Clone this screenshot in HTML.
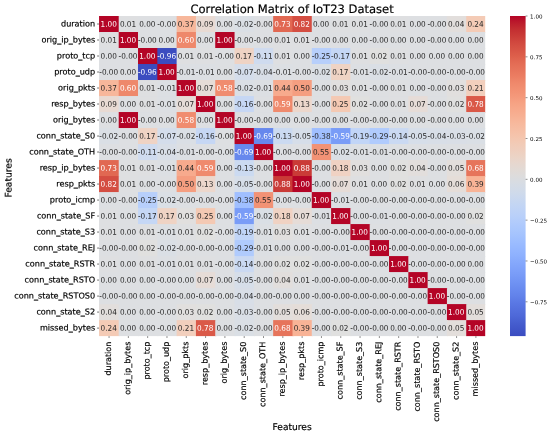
<!DOCTYPE html>
<html><head><meta charset="utf-8"><title>Correlation Matrix of IoT23 Dataset</title>
<style>html,body{margin:0;padding:0;background:#fff;overflow:hidden}svg{display:block}</style></head>
<body>
<svg width="550" height="434" viewBox="0 0 550 434" font-family="'DejaVu Sans', 'Liberation Sans', sans-serif">
<rect width="550" height="434" fill="#fff"/>
<defs><linearGradient id="cb" x1="0" y1="0" x2="0" y2="1"><stop offset="0.00%" stop-color="#b40426"/><stop offset="2.08%" stop-color="#bb1b2c"/><stop offset="4.17%" stop-color="#c32e31"/><stop offset="6.25%" stop-color="#ca3b37"/><stop offset="8.33%" stop-color="#d1493f"/><stop offset="10.42%" stop-color="#d75445"/><stop offset="12.50%" stop-color="#dd5f4b"/><stop offset="14.58%" stop-color="#e36b54"/><stop offset="16.67%" stop-color="#e7745b"/><stop offset="18.75%" stop-color="#eb7d62"/><stop offset="20.83%" stop-color="#ef886b"/><stop offset="22.92%" stop-color="#f29072"/><stop offset="25.00%" stop-color="#f4987a"/><stop offset="27.08%" stop-color="#f6a283"/><stop offset="29.17%" stop-color="#f7a98b"/><stop offset="31.25%" stop-color="#f7b093"/><stop offset="33.33%" stop-color="#f7b89c"/><stop offset="35.42%" stop-color="#f6bea4"/><stop offset="37.50%" stop-color="#f5c4ac"/><stop offset="39.58%" stop-color="#f2cab5"/><stop offset="41.67%" stop-color="#efcebd"/><stop offset="43.75%" stop-color="#ecd3c5"/><stop offset="45.83%" stop-color="#e7d7ce"/><stop offset="47.92%" stop-color="#e2dad5"/><stop offset="50.00%" stop-color="#dddcdc"/><stop offset="52.08%" stop-color="#d7dce3"/><stop offset="54.17%" stop-color="#d2dbe8"/><stop offset="56.25%" stop-color="#ccd9ed"/><stop offset="58.33%" stop-color="#c5d6f2"/><stop offset="60.42%" stop-color="#bfd3f6"/><stop offset="62.50%" stop-color="#b9d0f9"/><stop offset="64.58%" stop-color="#b1cbfc"/><stop offset="66.67%" stop-color="#aac7fd"/><stop offset="68.75%" stop-color="#a3c2fe"/><stop offset="70.83%" stop-color="#9bbcff"/><stop offset="72.92%" stop-color="#94b6ff"/><stop offset="75.00%" stop-color="#8db0fe"/><stop offset="77.08%" stop-color="#85a8fc"/><stop offset="79.17%" stop-color="#7ea1fa"/><stop offset="81.25%" stop-color="#779af7"/><stop offset="83.33%" stop-color="#6f92f3"/><stop offset="85.42%" stop-color="#688aef"/><stop offset="87.50%" stop-color="#6282ea"/><stop offset="89.58%" stop-color="#5a78e4"/><stop offset="91.67%" stop-color="#5470de"/><stop offset="93.75%" stop-color="#4e68d8"/><stop offset="95.83%" stop-color="#465ecf"/><stop offset="97.92%" stop-color="#4055c8"/><stop offset="100.00%" stop-color="#3b4cc0"/></linearGradient></defs>
<g>
<rect x="99.05" y="16.00" width="20.66" height="17.01" fill="#b40426"/>
<rect x="118.71" y="16.00" width="20.31" height="17.01" fill="#dedfe1"/>
<rect x="138.01" y="16.00" width="20.31" height="17.01" fill="#dddfe2"/>
<rect x="157.32" y="16.00" width="20.31" height="17.01" fill="#dddfe2"/>
<rect x="176.63" y="16.00" width="20.31" height="17.01" fill="#f7b79b"/>
<rect x="195.94" y="16.00" width="20.31" height="17.01" fill="#e8dad3"/>
<rect x="215.24" y="16.00" width="20.31" height="17.01" fill="#dddfe2"/>
<rect x="234.55" y="16.00" width="20.31" height="17.01" fill="#dadfe5"/>
<rect x="253.86" y="16.00" width="20.31" height="17.01" fill="#dddfe2"/>
<rect x="273.17" y="16.00" width="20.31" height="17.01" fill="#e16852"/>
<rect x="292.48" y="16.00" width="20.31" height="17.01" fill="#d44e42"/>
<rect x="311.78" y="16.00" width="20.31" height="17.01" fill="#dddfe2"/>
<rect x="331.09" y="16.00" width="20.31" height="17.01" fill="#dedfe1"/>
<rect x="350.40" y="16.00" width="20.31" height="17.01" fill="#dedfe1"/>
<rect x="369.70" y="16.00" width="20.31" height="17.01" fill="#dddfe2"/>
<rect x="389.01" y="16.00" width="20.31" height="17.01" fill="#dedfe1"/>
<rect x="408.32" y="16.00" width="20.31" height="17.01" fill="#dddfe2"/>
<rect x="427.63" y="16.00" width="20.31" height="17.01" fill="#dddfe2"/>
<rect x="446.94" y="16.00" width="20.31" height="17.01" fill="#e2dedc"/>
<rect x="466.24" y="16.00" width="18.96" height="17.01" fill="#f4cbb6"/>
<rect x="99.05" y="32.01" width="20.66" height="17.01" fill="#dedfe1"/>
<rect x="118.71" y="32.01" width="20.31" height="17.01" fill="#b40426"/>
<rect x="138.01" y="32.01" width="20.31" height="17.01" fill="#dddfe2"/>
<rect x="157.32" y="32.01" width="20.31" height="17.01" fill="#dddfe2"/>
<rect x="176.63" y="32.01" width="20.31" height="17.01" fill="#ee886b"/>
<rect x="195.94" y="32.01" width="20.31" height="17.01" fill="#dddfe2"/>
<rect x="215.24" y="32.01" width="20.31" height="17.01" fill="#b40426"/>
<rect x="234.55" y="32.01" width="20.31" height="17.01" fill="#dddfe2"/>
<rect x="253.86" y="32.01" width="20.31" height="17.01" fill="#dddfe2"/>
<rect x="273.17" y="32.01" width="20.31" height="17.01" fill="#dedfe1"/>
<rect x="292.48" y="32.01" width="20.31" height="17.01" fill="#dedfe1"/>
<rect x="311.78" y="32.01" width="20.31" height="17.01" fill="#dddfe2"/>
<rect x="331.09" y="32.01" width="20.31" height="17.01" fill="#dddfe2"/>
<rect x="350.40" y="32.01" width="20.31" height="17.01" fill="#dddfe2"/>
<rect x="369.70" y="32.01" width="20.31" height="17.01" fill="#dddfe2"/>
<rect x="389.01" y="32.01" width="20.31" height="17.01" fill="#dddfe2"/>
<rect x="408.32" y="32.01" width="20.31" height="17.01" fill="#dddfe2"/>
<rect x="427.63" y="32.01" width="20.31" height="17.01" fill="#dddfe2"/>
<rect x="446.94" y="32.01" width="20.31" height="17.01" fill="#dddfe2"/>
<rect x="466.24" y="32.01" width="18.96" height="17.01" fill="#dddfe2"/>
<rect x="99.05" y="48.01" width="20.66" height="17.01" fill="#dddfe2"/>
<rect x="118.71" y="48.01" width="20.31" height="17.01" fill="#dddfe2"/>
<rect x="138.01" y="48.01" width="20.31" height="17.01" fill="#b40426"/>
<rect x="157.32" y="48.01" width="20.31" height="17.01" fill="#3b4cc0"/>
<rect x="176.63" y="48.01" width="20.31" height="17.01" fill="#dedfe1"/>
<rect x="195.94" y="48.01" width="20.31" height="17.01" fill="#dedfe1"/>
<rect x="215.24" y="48.01" width="20.31" height="17.01" fill="#dddfe2"/>
<rect x="234.55" y="48.01" width="20.31" height="17.01" fill="#efd3c4"/>
<rect x="253.86" y="48.01" width="20.31" height="17.01" fill="#cfdbef"/>
<rect x="273.17" y="48.01" width="20.31" height="17.01" fill="#dedfe1"/>
<rect x="292.48" y="48.01" width="20.31" height="17.01" fill="#dddfe2"/>
<rect x="311.78" y="48.01" width="20.31" height="17.01" fill="#b7cffb"/>
<rect x="331.09" y="48.01" width="20.31" height="17.01" fill="#c5d7f5"/>
<rect x="350.40" y="48.01" width="20.31" height="17.01" fill="#dedfe1"/>
<rect x="369.70" y="48.01" width="20.31" height="17.01" fill="#e0e0df"/>
<rect x="389.01" y="48.01" width="20.31" height="17.01" fill="#dedfe1"/>
<rect x="408.32" y="48.01" width="20.31" height="17.01" fill="#dddfe2"/>
<rect x="427.63" y="48.01" width="20.31" height="17.01" fill="#dddfe2"/>
<rect x="446.94" y="48.01" width="20.31" height="17.01" fill="#dddfe2"/>
<rect x="466.24" y="48.01" width="18.96" height="17.01" fill="#dddfe2"/>
<rect x="99.05" y="64.02" width="20.66" height="17.01" fill="#dddfe2"/>
<rect x="118.71" y="64.02" width="20.31" height="17.01" fill="#dddfe2"/>
<rect x="138.01" y="64.02" width="20.31" height="17.01" fill="#3b4cc0"/>
<rect x="157.32" y="64.02" width="20.31" height="17.01" fill="#b40426"/>
<rect x="176.63" y="64.02" width="20.31" height="17.01" fill="#dcdfe3"/>
<rect x="195.94" y="64.02" width="20.31" height="17.01" fill="#dcdfe3"/>
<rect x="215.24" y="64.02" width="20.31" height="17.01" fill="#dddfe2"/>
<rect x="234.55" y="64.02" width="20.31" height="17.01" fill="#d4ddeb"/>
<rect x="253.86" y="64.02" width="20.31" height="17.01" fill="#d8dee7"/>
<rect x="273.17" y="64.02" width="20.31" height="17.01" fill="#dcdfe3"/>
<rect x="292.48" y="64.02" width="20.31" height="17.01" fill="#dddfe2"/>
<rect x="311.78" y="64.02" width="20.31" height="17.01" fill="#dadfe5"/>
<rect x="331.09" y="64.02" width="20.31" height="17.01" fill="#efd3c4"/>
<rect x="350.40" y="64.02" width="20.31" height="17.01" fill="#dcdfe3"/>
<rect x="369.70" y="64.02" width="20.31" height="17.01" fill="#dadfe5"/>
<rect x="389.01" y="64.02" width="20.31" height="17.01" fill="#dcdfe3"/>
<rect x="408.32" y="64.02" width="20.31" height="17.01" fill="#dddfe2"/>
<rect x="427.63" y="64.02" width="20.31" height="17.01" fill="#dddfe2"/>
<rect x="446.94" y="64.02" width="20.31" height="17.01" fill="#dddfe2"/>
<rect x="466.24" y="64.02" width="18.96" height="17.01" fill="#dddfe2"/>
<rect x="99.05" y="80.02" width="20.66" height="17.01" fill="#f7b79b"/>
<rect x="118.71" y="80.02" width="20.31" height="17.01" fill="#ee886b"/>
<rect x="138.01" y="80.02" width="20.31" height="17.01" fill="#dedfe1"/>
<rect x="157.32" y="80.02" width="20.31" height="17.01" fill="#dcdfe3"/>
<rect x="176.63" y="80.02" width="20.31" height="17.01" fill="#b40426"/>
<rect x="195.94" y="80.02" width="20.31" height="17.01" fill="#e6dcd7"/>
<rect x="215.24" y="80.02" width="20.31" height="17.01" fill="#f08c6f"/>
<rect x="234.55" y="80.02" width="20.31" height="17.01" fill="#dadfe5"/>
<rect x="253.86" y="80.02" width="20.31" height="17.01" fill="#dcdfe3"/>
<rect x="273.17" y="80.02" width="20.31" height="17.01" fill="#f7aa8d"/>
<rect x="292.48" y="80.02" width="20.31" height="17.01" fill="#f59e80"/>
<rect x="311.78" y="80.02" width="20.31" height="17.01" fill="#dddfe2"/>
<rect x="331.09" y="80.02" width="20.31" height="17.01" fill="#e1dfde"/>
<rect x="350.40" y="80.02" width="20.31" height="17.01" fill="#dedfe1"/>
<rect x="369.70" y="80.02" width="20.31" height="17.01" fill="#dddfe2"/>
<rect x="389.01" y="80.02" width="20.31" height="17.01" fill="#dedfe1"/>
<rect x="408.32" y="80.02" width="20.31" height="17.01" fill="#dddfe2"/>
<rect x="427.63" y="80.02" width="20.31" height="17.01" fill="#dddfe2"/>
<rect x="446.94" y="80.02" width="20.31" height="17.01" fill="#e1dfde"/>
<rect x="466.24" y="80.02" width="18.96" height="17.01" fill="#f2cfbd"/>
<rect x="99.05" y="96.03" width="20.66" height="17.01" fill="#e8dad3"/>
<rect x="118.71" y="96.03" width="20.31" height="17.01" fill="#dddfe2"/>
<rect x="138.01" y="96.03" width="20.31" height="17.01" fill="#dedfe1"/>
<rect x="157.32" y="96.03" width="20.31" height="17.01" fill="#dcdfe3"/>
<rect x="176.63" y="96.03" width="20.31" height="17.01" fill="#e6dcd7"/>
<rect x="195.94" y="96.03" width="20.31" height="17.01" fill="#b40426"/>
<rect x="215.24" y="96.03" width="20.31" height="17.01" fill="#dddfe2"/>
<rect x="234.55" y="96.03" width="20.31" height="17.01" fill="#c6d7f4"/>
<rect x="253.86" y="96.03" width="20.31" height="17.01" fill="#dddfe2"/>
<rect x="273.17" y="96.03" width="20.31" height="17.01" fill="#ef8a6d"/>
<rect x="292.48" y="96.03" width="20.31" height="17.01" fill="#ecd7cc"/>
<rect x="311.78" y="96.03" width="20.31" height="17.01" fill="#dddfe2"/>
<rect x="331.09" y="96.03" width="20.31" height="17.01" fill="#f4c9b3"/>
<rect x="350.40" y="96.03" width="20.31" height="17.01" fill="#e0e0df"/>
<rect x="369.70" y="96.03" width="20.31" height="17.01" fill="#dddfe2"/>
<rect x="389.01" y="96.03" width="20.31" height="17.01" fill="#dedfe1"/>
<rect x="408.32" y="96.03" width="20.31" height="17.01" fill="#e6dcd7"/>
<rect x="427.63" y="96.03" width="20.31" height="17.01" fill="#dddfe2"/>
<rect x="446.94" y="96.03" width="20.31" height="17.01" fill="#e0e0df"/>
<rect x="466.24" y="96.03" width="18.96" height="17.01" fill="#da5948"/>
<rect x="99.05" y="112.03" width="20.66" height="17.01" fill="#dddfe2"/>
<rect x="118.71" y="112.03" width="20.31" height="17.01" fill="#b40426"/>
<rect x="138.01" y="112.03" width="20.31" height="17.01" fill="#dddfe2"/>
<rect x="157.32" y="112.03" width="20.31" height="17.01" fill="#dddfe2"/>
<rect x="176.63" y="112.03" width="20.31" height="17.01" fill="#f08c6f"/>
<rect x="195.94" y="112.03" width="20.31" height="17.01" fill="#dddfe2"/>
<rect x="215.24" y="112.03" width="20.31" height="17.01" fill="#b40426"/>
<rect x="234.55" y="112.03" width="20.31" height="17.01" fill="#dddfe2"/>
<rect x="253.86" y="112.03" width="20.31" height="17.01" fill="#dddfe2"/>
<rect x="273.17" y="112.03" width="20.31" height="17.01" fill="#dddfe2"/>
<rect x="292.48" y="112.03" width="20.31" height="17.01" fill="#dddfe2"/>
<rect x="311.78" y="112.03" width="20.31" height="17.01" fill="#dddfe2"/>
<rect x="331.09" y="112.03" width="20.31" height="17.01" fill="#dddfe2"/>
<rect x="350.40" y="112.03" width="20.31" height="17.01" fill="#dddfe2"/>
<rect x="369.70" y="112.03" width="20.31" height="17.01" fill="#dddfe2"/>
<rect x="389.01" y="112.03" width="20.31" height="17.01" fill="#dddfe2"/>
<rect x="408.32" y="112.03" width="20.31" height="17.01" fill="#dddfe2"/>
<rect x="427.63" y="112.03" width="20.31" height="17.01" fill="#dddfe2"/>
<rect x="446.94" y="112.03" width="20.31" height="17.01" fill="#dddfe2"/>
<rect x="466.24" y="112.03" width="18.96" height="17.01" fill="#dddfe2"/>
<rect x="99.05" y="128.04" width="20.66" height="17.01" fill="#dadfe5"/>
<rect x="118.71" y="128.04" width="20.31" height="17.01" fill="#dddfe2"/>
<rect x="138.01" y="128.04" width="20.31" height="17.01" fill="#efd3c4"/>
<rect x="157.32" y="128.04" width="20.31" height="17.01" fill="#d4ddeb"/>
<rect x="176.63" y="128.04" width="20.31" height="17.01" fill="#dadfe5"/>
<rect x="195.94" y="128.04" width="20.31" height="17.01" fill="#c6d7f4"/>
<rect x="215.24" y="128.04" width="20.31" height="17.01" fill="#dddfe2"/>
<rect x="234.55" y="128.04" width="20.31" height="17.01" fill="#b40426"/>
<rect x="253.86" y="128.04" width="20.31" height="17.01" fill="#6788ed"/>
<rect x="273.17" y="128.04" width="20.31" height="17.01" fill="#cbdaf1"/>
<rect x="292.48" y="128.04" width="20.31" height="17.01" fill="#d6dee9"/>
<rect x="311.78" y="128.04" width="20.31" height="17.01" fill="#a0bfff"/>
<rect x="331.09" y="128.04" width="20.31" height="17.01" fill="#799cf7"/>
<rect x="350.40" y="128.04" width="20.31" height="17.01" fill="#c1d5f7"/>
<rect x="369.70" y="128.04" width="20.31" height="17.01" fill="#b0cbfd"/>
<rect x="389.01" y="128.04" width="20.31" height="17.01" fill="#cad9f2"/>
<rect x="408.32" y="128.04" width="20.31" height="17.01" fill="#d6dee9"/>
<rect x="427.63" y="128.04" width="20.31" height="17.01" fill="#d8dee7"/>
<rect x="446.94" y="128.04" width="20.31" height="17.01" fill="#d9dee6"/>
<rect x="466.24" y="128.04" width="18.96" height="17.01" fill="#dadfe5"/>
<rect x="99.05" y="144.04" width="20.66" height="17.01" fill="#dddfe2"/>
<rect x="118.71" y="144.04" width="20.31" height="17.01" fill="#dddfe2"/>
<rect x="138.01" y="144.04" width="20.31" height="17.01" fill="#cfdbef"/>
<rect x="157.32" y="144.04" width="20.31" height="17.01" fill="#d8dee7"/>
<rect x="176.63" y="144.04" width="20.31" height="17.01" fill="#dcdfe3"/>
<rect x="195.94" y="144.04" width="20.31" height="17.01" fill="#dddfe2"/>
<rect x="215.24" y="144.04" width="20.31" height="17.01" fill="#dddfe2"/>
<rect x="234.55" y="144.04" width="20.31" height="17.01" fill="#6788ed"/>
<rect x="253.86" y="144.04" width="20.31" height="17.01" fill="#b40426"/>
<rect x="273.17" y="144.04" width="20.31" height="17.01" fill="#dddfe2"/>
<rect x="292.48" y="144.04" width="20.31" height="17.01" fill="#dddfe2"/>
<rect x="311.78" y="144.04" width="20.31" height="17.01" fill="#f29275"/>
<rect x="331.09" y="144.04" width="20.31" height="17.01" fill="#dadfe5"/>
<rect x="350.40" y="144.04" width="20.31" height="17.01" fill="#dcdfe3"/>
<rect x="369.70" y="144.04" width="20.31" height="17.01" fill="#dcdfe3"/>
<rect x="389.01" y="144.04" width="20.31" height="17.01" fill="#dddfe2"/>
<rect x="408.32" y="144.04" width="20.31" height="17.01" fill="#dddfe2"/>
<rect x="427.63" y="144.04" width="20.31" height="17.01" fill="#dddfe2"/>
<rect x="446.94" y="144.04" width="20.31" height="17.01" fill="#dddfe2"/>
<rect x="466.24" y="144.04" width="18.96" height="17.01" fill="#dddfe2"/>
<rect x="99.05" y="160.05" width="20.66" height="17.01" fill="#e16852"/>
<rect x="118.71" y="160.05" width="20.31" height="17.01" fill="#dedfe1"/>
<rect x="138.01" y="160.05" width="20.31" height="17.01" fill="#dedfe1"/>
<rect x="157.32" y="160.05" width="20.31" height="17.01" fill="#dcdfe3"/>
<rect x="176.63" y="160.05" width="20.31" height="17.01" fill="#f7aa8d"/>
<rect x="195.94" y="160.05" width="20.31" height="17.01" fill="#ef8a6d"/>
<rect x="215.24" y="160.05" width="20.31" height="17.01" fill="#dddfe2"/>
<rect x="234.55" y="160.05" width="20.31" height="17.01" fill="#cbdaf1"/>
<rect x="253.86" y="160.05" width="20.31" height="17.01" fill="#dddfe2"/>
<rect x="273.17" y="160.05" width="20.31" height="17.01" fill="#b40426"/>
<rect x="292.48" y="160.05" width="20.31" height="17.01" fill="#ca3b37"/>
<rect x="311.78" y="160.05" width="20.31" height="17.01" fill="#dddfe2"/>
<rect x="331.09" y="160.05" width="20.31" height="17.01" fill="#f0d2c3"/>
<rect x="350.40" y="160.05" width="20.31" height="17.01" fill="#e1dfde"/>
<rect x="369.70" y="160.05" width="20.31" height="17.01" fill="#dddfe2"/>
<rect x="389.01" y="160.05" width="20.31" height="17.01" fill="#e0e0df"/>
<rect x="408.32" y="160.05" width="20.31" height="17.01" fill="#e2dedc"/>
<rect x="427.63" y="160.05" width="20.31" height="17.01" fill="#dddfe2"/>
<rect x="446.94" y="160.05" width="20.31" height="17.01" fill="#e3dedb"/>
<rect x="466.24" y="160.05" width="18.96" height="17.01" fill="#e6745b"/>
<rect x="99.05" y="176.05" width="20.66" height="17.01" fill="#d44e42"/>
<rect x="118.71" y="176.05" width="20.31" height="17.01" fill="#dedfe1"/>
<rect x="138.01" y="176.05" width="20.31" height="17.01" fill="#dddfe2"/>
<rect x="157.32" y="176.05" width="20.31" height="17.01" fill="#dddfe2"/>
<rect x="176.63" y="176.05" width="20.31" height="17.01" fill="#f59e80"/>
<rect x="195.94" y="176.05" width="20.31" height="17.01" fill="#ecd7cc"/>
<rect x="215.24" y="176.05" width="20.31" height="17.01" fill="#dddfe2"/>
<rect x="234.55" y="176.05" width="20.31" height="17.01" fill="#d6dee9"/>
<rect x="253.86" y="176.05" width="20.31" height="17.01" fill="#dddfe2"/>
<rect x="273.17" y="176.05" width="20.31" height="17.01" fill="#ca3b37"/>
<rect x="292.48" y="176.05" width="20.31" height="17.01" fill="#b40426"/>
<rect x="311.78" y="176.05" width="20.31" height="17.01" fill="#dddfe2"/>
<rect x="331.09" y="176.05" width="20.31" height="17.01" fill="#e6dcd7"/>
<rect x="350.40" y="176.05" width="20.31" height="17.01" fill="#dedfe1"/>
<rect x="369.70" y="176.05" width="20.31" height="17.01" fill="#dddfe2"/>
<rect x="389.01" y="176.05" width="20.31" height="17.01" fill="#e0e0df"/>
<rect x="408.32" y="176.05" width="20.31" height="17.01" fill="#dedfe1"/>
<rect x="427.63" y="176.05" width="20.31" height="17.01" fill="#dddfe2"/>
<rect x="446.94" y="176.05" width="20.31" height="17.01" fill="#e5ddd8"/>
<rect x="466.24" y="176.05" width="18.96" height="17.01" fill="#f8b396"/>
<rect x="99.05" y="192.06" width="20.66" height="17.01" fill="#dddfe2"/>
<rect x="118.71" y="192.06" width="20.31" height="17.01" fill="#dddfe2"/>
<rect x="138.01" y="192.06" width="20.31" height="17.01" fill="#b7cffb"/>
<rect x="157.32" y="192.06" width="20.31" height="17.01" fill="#dadfe5"/>
<rect x="176.63" y="192.06" width="20.31" height="17.01" fill="#dddfe2"/>
<rect x="195.94" y="192.06" width="20.31" height="17.01" fill="#dddfe2"/>
<rect x="215.24" y="192.06" width="20.31" height="17.01" fill="#dddfe2"/>
<rect x="234.55" y="192.06" width="20.31" height="17.01" fill="#a0bfff"/>
<rect x="253.86" y="192.06" width="20.31" height="17.01" fill="#f29275"/>
<rect x="273.17" y="192.06" width="20.31" height="17.01" fill="#dddfe2"/>
<rect x="292.48" y="192.06" width="20.31" height="17.01" fill="#dddfe2"/>
<rect x="311.78" y="192.06" width="20.31" height="17.01" fill="#b40426"/>
<rect x="331.09" y="192.06" width="20.31" height="17.01" fill="#dcdfe3"/>
<rect x="350.40" y="192.06" width="20.31" height="17.01" fill="#dddfe2"/>
<rect x="369.70" y="192.06" width="20.31" height="17.01" fill="#dddfe2"/>
<rect x="389.01" y="192.06" width="20.31" height="17.01" fill="#dddfe2"/>
<rect x="408.32" y="192.06" width="20.31" height="17.01" fill="#dddfe2"/>
<rect x="427.63" y="192.06" width="20.31" height="17.01" fill="#dddfe2"/>
<rect x="446.94" y="192.06" width="20.31" height="17.01" fill="#dddfe2"/>
<rect x="466.24" y="192.06" width="18.96" height="17.01" fill="#dddfe2"/>
<rect x="99.05" y="208.06" width="20.66" height="17.01" fill="#dedfe1"/>
<rect x="118.71" y="208.06" width="20.31" height="17.01" fill="#dddfe2"/>
<rect x="138.01" y="208.06" width="20.31" height="17.01" fill="#c5d7f5"/>
<rect x="157.32" y="208.06" width="20.31" height="17.01" fill="#efd3c4"/>
<rect x="176.63" y="208.06" width="20.31" height="17.01" fill="#e1dfde"/>
<rect x="195.94" y="208.06" width="20.31" height="17.01" fill="#f4c9b3"/>
<rect x="215.24" y="208.06" width="20.31" height="17.01" fill="#dddfe2"/>
<rect x="234.55" y="208.06" width="20.31" height="17.01" fill="#799cf7"/>
<rect x="253.86" y="208.06" width="20.31" height="17.01" fill="#dadfe5"/>
<rect x="273.17" y="208.06" width="20.31" height="17.01" fill="#f0d2c3"/>
<rect x="292.48" y="208.06" width="20.31" height="17.01" fill="#e6dcd7"/>
<rect x="311.78" y="208.06" width="20.31" height="17.01" fill="#dcdfe3"/>
<rect x="331.09" y="208.06" width="20.31" height="17.01" fill="#b40426"/>
<rect x="350.40" y="208.06" width="20.31" height="17.01" fill="#dddfe2"/>
<rect x="369.70" y="208.06" width="20.31" height="17.01" fill="#dcdfe3"/>
<rect x="389.01" y="208.06" width="20.31" height="17.01" fill="#dddfe2"/>
<rect x="408.32" y="208.06" width="20.31" height="17.01" fill="#dddfe2"/>
<rect x="427.63" y="208.06" width="20.31" height="17.01" fill="#dddfe2"/>
<rect x="446.94" y="208.06" width="20.31" height="17.01" fill="#dddfe2"/>
<rect x="466.24" y="208.06" width="18.96" height="17.01" fill="#e0e0df"/>
<rect x="99.05" y="224.07" width="20.66" height="17.01" fill="#dedfe1"/>
<rect x="118.71" y="224.07" width="20.31" height="17.01" fill="#dddfe2"/>
<rect x="138.01" y="224.07" width="20.31" height="17.01" fill="#dedfe1"/>
<rect x="157.32" y="224.07" width="20.31" height="17.01" fill="#dcdfe3"/>
<rect x="176.63" y="224.07" width="20.31" height="17.01" fill="#dedfe1"/>
<rect x="195.94" y="224.07" width="20.31" height="17.01" fill="#e0e0df"/>
<rect x="215.24" y="224.07" width="20.31" height="17.01" fill="#dddfe2"/>
<rect x="234.55" y="224.07" width="20.31" height="17.01" fill="#c1d5f7"/>
<rect x="253.86" y="224.07" width="20.31" height="17.01" fill="#dcdfe3"/>
<rect x="273.17" y="224.07" width="20.31" height="17.01" fill="#e1dfde"/>
<rect x="292.48" y="224.07" width="20.31" height="17.01" fill="#dedfe1"/>
<rect x="311.78" y="224.07" width="20.31" height="17.01" fill="#dddfe2"/>
<rect x="331.09" y="224.07" width="20.31" height="17.01" fill="#dddfe2"/>
<rect x="350.40" y="224.07" width="20.31" height="17.01" fill="#b40426"/>
<rect x="369.70" y="224.07" width="20.31" height="17.01" fill="#dddfe2"/>
<rect x="389.01" y="224.07" width="20.31" height="17.01" fill="#dddfe2"/>
<rect x="408.32" y="224.07" width="20.31" height="17.01" fill="#dddfe2"/>
<rect x="427.63" y="224.07" width="20.31" height="17.01" fill="#dddfe2"/>
<rect x="446.94" y="224.07" width="20.31" height="17.01" fill="#dddfe2"/>
<rect x="466.24" y="224.07" width="18.96" height="17.01" fill="#dddfe2"/>
<rect x="99.05" y="240.07" width="20.66" height="17.01" fill="#dddfe2"/>
<rect x="118.71" y="240.07" width="20.31" height="17.01" fill="#dddfe2"/>
<rect x="138.01" y="240.07" width="20.31" height="17.01" fill="#e0e0df"/>
<rect x="157.32" y="240.07" width="20.31" height="17.01" fill="#dadfe5"/>
<rect x="176.63" y="240.07" width="20.31" height="17.01" fill="#dddfe2"/>
<rect x="195.94" y="240.07" width="20.31" height="17.01" fill="#dddfe2"/>
<rect x="215.24" y="240.07" width="20.31" height="17.01" fill="#dddfe2"/>
<rect x="234.55" y="240.07" width="20.31" height="17.01" fill="#b0cbfd"/>
<rect x="253.86" y="240.07" width="20.31" height="17.01" fill="#dcdfe3"/>
<rect x="273.17" y="240.07" width="20.31" height="17.01" fill="#dddfe2"/>
<rect x="292.48" y="240.07" width="20.31" height="17.01" fill="#dddfe2"/>
<rect x="311.78" y="240.07" width="20.31" height="17.01" fill="#dddfe2"/>
<rect x="331.09" y="240.07" width="20.31" height="17.01" fill="#dcdfe3"/>
<rect x="350.40" y="240.07" width="20.31" height="17.01" fill="#dddfe2"/>
<rect x="369.70" y="240.07" width="20.31" height="17.01" fill="#b40426"/>
<rect x="389.01" y="240.07" width="20.31" height="17.01" fill="#dddfe2"/>
<rect x="408.32" y="240.07" width="20.31" height="17.01" fill="#dddfe2"/>
<rect x="427.63" y="240.07" width="20.31" height="17.01" fill="#dddfe2"/>
<rect x="446.94" y="240.07" width="20.31" height="17.01" fill="#dddfe2"/>
<rect x="466.24" y="240.07" width="18.96" height="17.01" fill="#dddfe2"/>
<rect x="99.05" y="256.08" width="20.66" height="17.01" fill="#dedfe1"/>
<rect x="118.71" y="256.08" width="20.31" height="17.01" fill="#dddfe2"/>
<rect x="138.01" y="256.08" width="20.31" height="17.01" fill="#dedfe1"/>
<rect x="157.32" y="256.08" width="20.31" height="17.01" fill="#dcdfe3"/>
<rect x="176.63" y="256.08" width="20.31" height="17.01" fill="#dedfe1"/>
<rect x="195.94" y="256.08" width="20.31" height="17.01" fill="#dedfe1"/>
<rect x="215.24" y="256.08" width="20.31" height="17.01" fill="#dddfe2"/>
<rect x="234.55" y="256.08" width="20.31" height="17.01" fill="#cad9f2"/>
<rect x="253.86" y="256.08" width="20.31" height="17.01" fill="#dddfe2"/>
<rect x="273.17" y="256.08" width="20.31" height="17.01" fill="#e0e0df"/>
<rect x="292.48" y="256.08" width="20.31" height="17.01" fill="#e0e0df"/>
<rect x="311.78" y="256.08" width="20.31" height="17.01" fill="#dddfe2"/>
<rect x="331.09" y="256.08" width="20.31" height="17.01" fill="#dddfe2"/>
<rect x="350.40" y="256.08" width="20.31" height="17.01" fill="#dddfe2"/>
<rect x="369.70" y="256.08" width="20.31" height="17.01" fill="#dddfe2"/>
<rect x="389.01" y="256.08" width="20.31" height="17.01" fill="#b40426"/>
<rect x="408.32" y="256.08" width="20.31" height="17.01" fill="#dddfe2"/>
<rect x="427.63" y="256.08" width="20.31" height="17.01" fill="#dddfe2"/>
<rect x="446.94" y="256.08" width="20.31" height="17.01" fill="#dddfe2"/>
<rect x="466.24" y="256.08" width="18.96" height="17.01" fill="#dddfe2"/>
<rect x="99.05" y="272.08" width="20.66" height="17.01" fill="#dddfe2"/>
<rect x="118.71" y="272.08" width="20.31" height="17.01" fill="#dddfe2"/>
<rect x="138.01" y="272.08" width="20.31" height="17.01" fill="#dddfe2"/>
<rect x="157.32" y="272.08" width="20.31" height="17.01" fill="#dddfe2"/>
<rect x="176.63" y="272.08" width="20.31" height="17.01" fill="#dddfe2"/>
<rect x="195.94" y="272.08" width="20.31" height="17.01" fill="#e6dcd7"/>
<rect x="215.24" y="272.08" width="20.31" height="17.01" fill="#dddfe2"/>
<rect x="234.55" y="272.08" width="20.31" height="17.01" fill="#d6dee9"/>
<rect x="253.86" y="272.08" width="20.31" height="17.01" fill="#dddfe2"/>
<rect x="273.17" y="272.08" width="20.31" height="17.01" fill="#e2dedc"/>
<rect x="292.48" y="272.08" width="20.31" height="17.01" fill="#dedfe1"/>
<rect x="311.78" y="272.08" width="20.31" height="17.01" fill="#dddfe2"/>
<rect x="331.09" y="272.08" width="20.31" height="17.01" fill="#dddfe2"/>
<rect x="350.40" y="272.08" width="20.31" height="17.01" fill="#dddfe2"/>
<rect x="369.70" y="272.08" width="20.31" height="17.01" fill="#dddfe2"/>
<rect x="389.01" y="272.08" width="20.31" height="17.01" fill="#dddfe2"/>
<rect x="408.32" y="272.08" width="20.31" height="17.01" fill="#b40426"/>
<rect x="427.63" y="272.08" width="20.31" height="17.01" fill="#dddfe2"/>
<rect x="446.94" y="272.08" width="20.31" height="17.01" fill="#dddfe2"/>
<rect x="466.24" y="272.08" width="18.96" height="17.01" fill="#dddfe2"/>
<rect x="99.05" y="288.09" width="20.66" height="17.01" fill="#dddfe2"/>
<rect x="118.71" y="288.09" width="20.31" height="17.01" fill="#dddfe2"/>
<rect x="138.01" y="288.09" width="20.31" height="17.01" fill="#dddfe2"/>
<rect x="157.32" y="288.09" width="20.31" height="17.01" fill="#dddfe2"/>
<rect x="176.63" y="288.09" width="20.31" height="17.01" fill="#dddfe2"/>
<rect x="195.94" y="288.09" width="20.31" height="17.01" fill="#dddfe2"/>
<rect x="215.24" y="288.09" width="20.31" height="17.01" fill="#dddfe2"/>
<rect x="234.55" y="288.09" width="20.31" height="17.01" fill="#d8dee7"/>
<rect x="253.86" y="288.09" width="20.31" height="17.01" fill="#dddfe2"/>
<rect x="273.17" y="288.09" width="20.31" height="17.01" fill="#dddfe2"/>
<rect x="292.48" y="288.09" width="20.31" height="17.01" fill="#dddfe2"/>
<rect x="311.78" y="288.09" width="20.31" height="17.01" fill="#dddfe2"/>
<rect x="331.09" y="288.09" width="20.31" height="17.01" fill="#dddfe2"/>
<rect x="350.40" y="288.09" width="20.31" height="17.01" fill="#dddfe2"/>
<rect x="369.70" y="288.09" width="20.31" height="17.01" fill="#dddfe2"/>
<rect x="389.01" y="288.09" width="20.31" height="17.01" fill="#dddfe2"/>
<rect x="408.32" y="288.09" width="20.31" height="17.01" fill="#dddfe2"/>
<rect x="427.63" y="288.09" width="20.31" height="17.01" fill="#b40426"/>
<rect x="446.94" y="288.09" width="20.31" height="17.01" fill="#dddfe2"/>
<rect x="466.24" y="288.09" width="18.96" height="17.01" fill="#dddfe2"/>
<rect x="99.05" y="304.09" width="20.66" height="17.01" fill="#e2dedc"/>
<rect x="118.71" y="304.09" width="20.31" height="17.01" fill="#dddfe2"/>
<rect x="138.01" y="304.09" width="20.31" height="17.01" fill="#dddfe2"/>
<rect x="157.32" y="304.09" width="20.31" height="17.01" fill="#dddfe2"/>
<rect x="176.63" y="304.09" width="20.31" height="17.01" fill="#e1dfde"/>
<rect x="195.94" y="304.09" width="20.31" height="17.01" fill="#e0e0df"/>
<rect x="215.24" y="304.09" width="20.31" height="17.01" fill="#dddfe2"/>
<rect x="234.55" y="304.09" width="20.31" height="17.01" fill="#d9dee6"/>
<rect x="253.86" y="304.09" width="20.31" height="17.01" fill="#dddfe2"/>
<rect x="273.17" y="304.09" width="20.31" height="17.01" fill="#e3dedb"/>
<rect x="292.48" y="304.09" width="20.31" height="17.01" fill="#e5ddd8"/>
<rect x="311.78" y="304.09" width="20.31" height="17.01" fill="#dddfe2"/>
<rect x="331.09" y="304.09" width="20.31" height="17.01" fill="#dddfe2"/>
<rect x="350.40" y="304.09" width="20.31" height="17.01" fill="#dddfe2"/>
<rect x="369.70" y="304.09" width="20.31" height="17.01" fill="#dddfe2"/>
<rect x="389.01" y="304.09" width="20.31" height="17.01" fill="#dddfe2"/>
<rect x="408.32" y="304.09" width="20.31" height="17.01" fill="#dddfe2"/>
<rect x="427.63" y="304.09" width="20.31" height="17.01" fill="#dddfe2"/>
<rect x="446.94" y="304.09" width="20.31" height="17.01" fill="#b40426"/>
<rect x="466.24" y="304.09" width="18.96" height="17.01" fill="#e3dedb"/>
<rect x="99.05" y="320.10" width="20.66" height="16.01" fill="#f4cbb6"/>
<rect x="118.71" y="320.10" width="20.31" height="16.01" fill="#dddfe2"/>
<rect x="138.01" y="320.10" width="20.31" height="16.01" fill="#dddfe2"/>
<rect x="157.32" y="320.10" width="20.31" height="16.01" fill="#dddfe2"/>
<rect x="176.63" y="320.10" width="20.31" height="16.01" fill="#f2cfbd"/>
<rect x="195.94" y="320.10" width="20.31" height="16.01" fill="#da5948"/>
<rect x="215.24" y="320.10" width="20.31" height="16.01" fill="#dddfe2"/>
<rect x="234.55" y="320.10" width="20.31" height="16.01" fill="#dadfe5"/>
<rect x="253.86" y="320.10" width="20.31" height="16.01" fill="#dddfe2"/>
<rect x="273.17" y="320.10" width="20.31" height="16.01" fill="#e6745b"/>
<rect x="292.48" y="320.10" width="20.31" height="16.01" fill="#f8b396"/>
<rect x="311.78" y="320.10" width="20.31" height="16.01" fill="#dddfe2"/>
<rect x="331.09" y="320.10" width="20.31" height="16.01" fill="#e0e0df"/>
<rect x="350.40" y="320.10" width="20.31" height="16.01" fill="#dddfe2"/>
<rect x="369.70" y="320.10" width="20.31" height="16.01" fill="#dddfe2"/>
<rect x="389.01" y="320.10" width="20.31" height="16.01" fill="#dddfe2"/>
<rect x="408.32" y="320.10" width="20.31" height="16.01" fill="#dddfe2"/>
<rect x="427.63" y="320.10" width="20.31" height="16.01" fill="#dddfe2"/>
<rect x="446.94" y="320.10" width="20.31" height="16.01" fill="#e3dedb"/>
<rect x="466.24" y="320.10" width="18.96" height="16.01" fill="#b40426"/>
</g>
<g stroke="#000" stroke-width="0.45">
<line x1="97.12" y1="24.00" x2="99.05" y2="24.00" stroke-width="0.55"/>
<line x1="109.05" y1="336.10" x2="109.05" y2="338.03"/>
<line x1="97.12" y1="40.01" x2="99.05" y2="40.01" stroke-width="0.55"/>
<line x1="128.36" y1="336.10" x2="128.36" y2="338.03"/>
<line x1="97.12" y1="56.01" x2="99.05" y2="56.01" stroke-width="0.55"/>
<line x1="147.67" y1="336.10" x2="147.67" y2="338.03"/>
<line x1="97.12" y1="72.02" x2="99.05" y2="72.02" stroke-width="0.55"/>
<line x1="166.98" y1="336.10" x2="166.98" y2="338.03"/>
<line x1="97.12" y1="88.02" x2="99.05" y2="88.02" stroke-width="0.55"/>
<line x1="186.28" y1="336.10" x2="186.28" y2="338.03"/>
<line x1="97.12" y1="104.03" x2="99.05" y2="104.03" stroke-width="0.55"/>
<line x1="205.59" y1="336.10" x2="205.59" y2="338.03"/>
<line x1="97.12" y1="120.03" x2="99.05" y2="120.03" stroke-width="0.55"/>
<line x1="224.90" y1="336.10" x2="224.90" y2="338.03"/>
<line x1="97.12" y1="136.04" x2="99.05" y2="136.04" stroke-width="0.55"/>
<line x1="244.21" y1="336.10" x2="244.21" y2="338.03"/>
<line x1="97.12" y1="152.04" x2="99.05" y2="152.04" stroke-width="0.55"/>
<line x1="263.51" y1="336.10" x2="263.51" y2="338.03"/>
<line x1="97.12" y1="168.05" x2="99.05" y2="168.05" stroke-width="0.55"/>
<line x1="282.82" y1="336.10" x2="282.82" y2="338.03"/>
<line x1="97.12" y1="184.05" x2="99.05" y2="184.05" stroke-width="0.55"/>
<line x1="302.13" y1="336.10" x2="302.13" y2="338.03"/>
<line x1="97.12" y1="200.06" x2="99.05" y2="200.06" stroke-width="0.55"/>
<line x1="321.44" y1="336.10" x2="321.44" y2="338.03"/>
<line x1="97.12" y1="216.06" x2="99.05" y2="216.06" stroke-width="0.55"/>
<line x1="340.74" y1="336.10" x2="340.74" y2="338.03"/>
<line x1="97.12" y1="232.07" x2="99.05" y2="232.07" stroke-width="0.55"/>
<line x1="360.05" y1="336.10" x2="360.05" y2="338.03"/>
<line x1="97.12" y1="248.07" x2="99.05" y2="248.07" stroke-width="0.55"/>
<line x1="379.36" y1="336.10" x2="379.36" y2="338.03"/>
<line x1="97.12" y1="264.08" x2="99.05" y2="264.08" stroke-width="0.55"/>
<line x1="398.67" y1="336.10" x2="398.67" y2="338.03"/>
<line x1="97.12" y1="280.08" x2="99.05" y2="280.08" stroke-width="0.55"/>
<line x1="417.97" y1="336.10" x2="417.97" y2="338.03"/>
<line x1="97.12" y1="296.09" x2="99.05" y2="296.09" stroke-width="0.55"/>
<line x1="437.28" y1="336.10" x2="437.28" y2="338.03"/>
<line x1="97.12" y1="312.09" x2="99.05" y2="312.09" stroke-width="0.55"/>
<line x1="456.59" y1="336.10" x2="456.59" y2="338.03"/>
<line x1="97.12" y1="328.10" x2="99.05" y2="328.10" stroke-width="0.55"/>
<line x1="475.90" y1="336.10" x2="475.90" y2="338.03"/>
</g>
<g font-size="7.3" text-anchor="middle" transform="rotate(0.05) scale(1,1.07)">
<text x="108.73" y="24.91" fill="#fff">1.00</text>
<text x="128.03" y="24.90" fill="#262626">0.01</text>
<text x="147.34" y="24.88" fill="#262626">0.00</text>
<text x="166.65" y="24.87" fill="#262626">-0.00</text>
<text x="185.96" y="24.85" fill="#262626">0.37</text>
<text x="205.26" y="24.83" fill="#262626">0.09</text>
<text x="224.57" y="24.82" fill="#262626">0.00</text>
<text x="243.88" y="24.80" fill="#262626">-0.02</text>
<text x="263.19" y="24.79" fill="#262626">-0.00</text>
<text x="282.49" y="24.77" fill="#fff">0.73</text>
<text x="301.80" y="24.76" fill="#fff">0.82</text>
<text x="321.11" y="24.74" fill="#262626">0.00</text>
<text x="340.42" y="24.72" fill="#262626">0.01</text>
<text x="359.72" y="24.71" fill="#262626">0.01</text>
<text x="379.03" y="24.69" fill="#262626">-0.00</text>
<text x="398.34" y="24.68" fill="#262626">0.01</text>
<text x="417.65" y="24.66" fill="#262626">0.00</text>
<text x="436.95" y="24.65" fill="#262626">-0.00</text>
<text x="456.26" y="24.63" fill="#262626">0.04</text>
<text x="475.57" y="24.61" fill="#262626">0.24</text>
<text x="108.74" y="39.87" fill="#262626">0.01</text>
<text x="128.05" y="39.86" fill="#fff">1.00</text>
<text x="147.36" y="39.84" fill="#262626">-0.00</text>
<text x="166.66" y="39.82" fill="#262626">0.00</text>
<text x="185.97" y="39.81" fill="#fff">0.60</text>
<text x="205.28" y="39.79" fill="#262626">0.00</text>
<text x="224.59" y="39.78" fill="#fff">1.00</text>
<text x="243.89" y="39.76" fill="#262626">-0.00</text>
<text x="263.20" y="39.75" fill="#262626">-0.00</text>
<text x="282.51" y="39.73" fill="#262626">0.01</text>
<text x="301.82" y="39.71" fill="#262626">0.01</text>
<text x="321.12" y="39.70" fill="#262626">-0.00</text>
<text x="340.43" y="39.68" fill="#262626">0.00</text>
<text x="359.74" y="39.67" fill="#262626">0.00</text>
<text x="379.05" y="39.65" fill="#262626">-0.00</text>
<text x="398.35" y="39.64" fill="#262626">0.00</text>
<text x="417.66" y="39.62" fill="#262626">0.00</text>
<text x="436.97" y="39.60" fill="#262626">-0.00</text>
<text x="456.28" y="39.59" fill="#262626">0.00</text>
<text x="475.58" y="39.57" fill="#262626">0.00</text>
<text x="108.75" y="54.83" fill="#262626">0.00</text>
<text x="128.06" y="54.81" fill="#262626">-0.00</text>
<text x="147.37" y="54.80" fill="#fff">1.00</text>
<text x="166.68" y="54.78" fill="#fff">-0.96</text>
<text x="185.98" y="54.77" fill="#262626">0.01</text>
<text x="205.29" y="54.75" fill="#262626">0.01</text>
<text x="224.60" y="54.74" fill="#262626">-0.00</text>
<text x="243.91" y="54.72" fill="#262626">0.17</text>
<text x="263.21" y="54.70" fill="#262626">-0.11</text>
<text x="282.52" y="54.69" fill="#262626">0.01</text>
<text x="301.83" y="54.67" fill="#262626">0.00</text>
<text x="321.14" y="54.66" fill="#262626">-0.25</text>
<text x="340.44" y="54.64" fill="#262626">-0.17</text>
<text x="359.75" y="54.62" fill="#262626">0.01</text>
<text x="379.06" y="54.61" fill="#262626">0.02</text>
<text x="398.37" y="54.59" fill="#262626">0.01</text>
<text x="417.67" y="54.58" fill="#262626">0.00</text>
<text x="436.98" y="54.56" fill="#262626">0.00</text>
<text x="456.29" y="54.55" fill="#262626">0.00</text>
<text x="475.60" y="54.53" fill="#262626">0.00</text>
<text x="108.77" y="69.79" fill="#262626">-0.00</text>
<text x="128.08" y="69.77" fill="#262626">0.00</text>
<text x="147.38" y="69.76" fill="#fff">-0.96</text>
<text x="166.69" y="69.74" fill="#fff">1.00</text>
<text x="186.00" y="69.72" fill="#262626">-0.01</text>
<text x="205.31" y="69.71" fill="#262626">-0.01</text>
<text x="224.61" y="69.69" fill="#262626">0.00</text>
<text x="243.92" y="69.68" fill="#262626">-0.07</text>
<text x="263.23" y="69.66" fill="#262626">-0.04</text>
<text x="282.54" y="69.65" fill="#262626">-0.01</text>
<text x="301.84" y="69.63" fill="#262626">-0.00</text>
<text x="321.15" y="69.61" fill="#262626">-0.02</text>
<text x="340.46" y="69.60" fill="#262626">0.17</text>
<text x="359.77" y="69.58" fill="#262626">-0.01</text>
<text x="379.07" y="69.57" fill="#262626">-0.02</text>
<text x="398.38" y="69.55" fill="#262626">-0.01</text>
<text x="417.69" y="69.54" fill="#262626">-0.00</text>
<text x="437.00" y="69.52" fill="#262626">-0.00</text>
<text x="456.30" y="69.50" fill="#262626">-0.00</text>
<text x="475.61" y="69.49" fill="#262626">-0.00</text>
<text x="108.78" y="84.75" fill="#262626">0.37</text>
<text x="128.09" y="84.73" fill="#fff">0.60</text>
<text x="147.40" y="84.71" fill="#262626">0.01</text>
<text x="166.71" y="84.70" fill="#262626">-0.01</text>
<text x="186.01" y="84.68" fill="#fff">1.00</text>
<text x="205.32" y="84.67" fill="#262626">0.07</text>
<text x="224.63" y="84.65" fill="#fff">0.58</text>
<text x="243.94" y="84.64" fill="#262626">-0.02</text>
<text x="263.24" y="84.62" fill="#262626">-0.01</text>
<text x="282.55" y="84.60" fill="#262626">0.44</text>
<text x="301.86" y="84.59" fill="#262626">0.50</text>
<text x="321.17" y="84.57" fill="#262626">-0.00</text>
<text x="340.47" y="84.56" fill="#262626">0.03</text>
<text x="359.78" y="84.54" fill="#262626">0.01</text>
<text x="379.09" y="84.52" fill="#262626">-0.00</text>
<text x="398.40" y="84.51" fill="#262626">0.01</text>
<text x="417.70" y="84.49" fill="#262626">0.00</text>
<text x="437.01" y="84.48" fill="#262626">-0.00</text>
<text x="456.32" y="84.46" fill="#262626">0.03</text>
<text x="475.63" y="84.45" fill="#262626">0.21</text>
<text x="108.80" y="99.70" fill="#262626">0.09</text>
<text x="128.10" y="99.69" fill="#262626">0.00</text>
<text x="147.41" y="99.67" fill="#262626">0.01</text>
<text x="166.72" y="99.66" fill="#262626">-0.01</text>
<text x="186.03" y="99.64" fill="#262626">0.07</text>
<text x="205.33" y="99.62" fill="#fff">1.00</text>
<text x="224.64" y="99.61" fill="#262626">0.00</text>
<text x="243.95" y="99.59" fill="#262626">-0.16</text>
<text x="263.26" y="99.58" fill="#262626">-0.00</text>
<text x="282.56" y="99.56" fill="#fff">0.59</text>
<text x="301.87" y="99.55" fill="#262626">0.13</text>
<text x="321.18" y="99.53" fill="#262626">-0.00</text>
<text x="340.49" y="99.51" fill="#262626">0.25</text>
<text x="359.79" y="99.50" fill="#262626">0.02</text>
<text x="379.10" y="99.48" fill="#262626">-0.00</text>
<text x="398.41" y="99.47" fill="#262626">0.01</text>
<text x="417.72" y="99.45" fill="#262626">0.07</text>
<text x="437.02" y="99.44" fill="#262626">-0.00</text>
<text x="456.33" y="99.42" fill="#262626">0.02</text>
<text x="475.64" y="99.40" fill="#fff">0.78</text>
<text x="108.81" y="114.66" fill="#262626">0.00</text>
<text x="128.12" y="114.65" fill="#fff">1.00</text>
<text x="147.43" y="114.63" fill="#262626">-0.00</text>
<text x="166.73" y="114.61" fill="#262626">0.00</text>
<text x="186.04" y="114.60" fill="#fff">0.58</text>
<text x="205.35" y="114.58" fill="#262626">0.00</text>
<text x="224.66" y="114.57" fill="#fff">1.00</text>
<text x="243.96" y="114.55" fill="#262626">-0.00</text>
<text x="263.27" y="114.54" fill="#262626">-0.00</text>
<text x="282.58" y="114.52" fill="#262626">0.00</text>
<text x="301.89" y="114.50" fill="#262626">0.00</text>
<text x="321.19" y="114.49" fill="#262626">-0.00</text>
<text x="340.50" y="114.47" fill="#262626">0.00</text>
<text x="359.81" y="114.46" fill="#262626">-0.00</text>
<text x="379.12" y="114.44" fill="#262626">-0.00</text>
<text x="398.42" y="114.43" fill="#262626">-0.00</text>
<text x="417.73" y="114.41" fill="#262626">0.00</text>
<text x="437.04" y="114.39" fill="#262626">-0.00</text>
<text x="456.35" y="114.38" fill="#262626">0.00</text>
<text x="475.65" y="114.36" fill="#262626">0.00</text>
<text x="108.82" y="129.62" fill="#262626">-0.02</text>
<text x="128.13" y="129.60" fill="#262626">-0.00</text>
<text x="147.44" y="129.59" fill="#262626">0.17</text>
<text x="166.75" y="129.57" fill="#262626">-0.07</text>
<text x="186.05" y="129.56" fill="#262626">-0.02</text>
<text x="205.36" y="129.54" fill="#262626">-0.16</text>
<text x="224.67" y="129.52" fill="#262626">-0.00</text>
<text x="243.98" y="129.51" fill="#fff">1.00</text>
<text x="263.28" y="129.49" fill="#fff">-0.69</text>
<text x="282.59" y="129.48" fill="#262626">-0.13</text>
<text x="301.90" y="129.46" fill="#262626">-0.05</text>
<text x="321.21" y="129.45" fill="#262626">-0.38</text>
<text x="340.51" y="129.43" fill="#fff">-0.59</text>
<text x="359.82" y="129.41" fill="#262626">-0.19</text>
<text x="379.13" y="129.40" fill="#262626">-0.29</text>
<text x="398.44" y="129.38" fill="#262626">-0.14</text>
<text x="417.74" y="129.37" fill="#262626">-0.05</text>
<text x="437.05" y="129.35" fill="#262626">-0.04</text>
<text x="456.36" y="129.34" fill="#262626">-0.03</text>
<text x="475.67" y="129.32" fill="#262626">-0.02</text>
<text x="108.84" y="144.58" fill="#262626">-0.00</text>
<text x="128.15" y="144.56" fill="#262626">-0.00</text>
<text x="147.45" y="144.55" fill="#262626">-0.11</text>
<text x="166.76" y="144.53" fill="#262626">-0.04</text>
<text x="186.07" y="144.51" fill="#262626">-0.01</text>
<text x="205.38" y="144.50" fill="#262626">-0.00</text>
<text x="224.68" y="144.48" fill="#262626">-0.00</text>
<text x="243.99" y="144.47" fill="#fff">-0.69</text>
<text x="263.30" y="144.45" fill="#fff">1.00</text>
<text x="282.61" y="144.44" fill="#262626">-0.00</text>
<text x="301.91" y="144.42" fill="#262626">-0.00</text>
<text x="321.22" y="144.40" fill="#262626">0.55</text>
<text x="340.53" y="144.39" fill="#262626">-0.02</text>
<text x="359.84" y="144.37" fill="#262626">-0.01</text>
<text x="379.14" y="144.36" fill="#262626">-0.01</text>
<text x="398.45" y="144.34" fill="#262626">-0.00</text>
<text x="417.76" y="144.33" fill="#262626">-0.00</text>
<text x="437.07" y="144.31" fill="#262626">-0.00</text>
<text x="456.37" y="144.29" fill="#262626">-0.00</text>
<text x="475.68" y="144.28" fill="#262626">-0.00</text>
<text x="108.85" y="159.54" fill="#fff">0.73</text>
<text x="128.16" y="159.52" fill="#262626">0.01</text>
<text x="147.47" y="159.50" fill="#262626">0.01</text>
<text x="166.78" y="159.49" fill="#262626">-0.01</text>
<text x="186.08" y="159.47" fill="#262626">0.44</text>
<text x="205.39" y="159.46" fill="#fff">0.59</text>
<text x="224.70" y="159.44" fill="#262626">0.00</text>
<text x="244.01" y="159.42" fill="#262626">-0.13</text>
<text x="263.31" y="159.41" fill="#262626">-0.00</text>
<text x="282.62" y="159.39" fill="#fff">1.00</text>
<text x="301.93" y="159.38" fill="#fff">0.88</text>
<text x="321.24" y="159.36" fill="#262626">-0.00</text>
<text x="340.54" y="159.35" fill="#262626">0.18</text>
<text x="359.85" y="159.33" fill="#262626">0.03</text>
<text x="379.16" y="159.31" fill="#262626">0.00</text>
<text x="398.47" y="159.30" fill="#262626">0.02</text>
<text x="417.77" y="159.28" fill="#262626">0.04</text>
<text x="437.08" y="159.27" fill="#262626">-0.00</text>
<text x="456.39" y="159.25" fill="#262626">0.05</text>
<text x="475.70" y="159.24" fill="#fff">0.68</text>
<text x="108.87" y="174.49" fill="#fff">0.82</text>
<text x="128.17" y="174.48" fill="#262626">0.01</text>
<text x="147.48" y="174.46" fill="#262626">0.00</text>
<text x="166.79" y="174.45" fill="#262626">-0.00</text>
<text x="186.10" y="174.43" fill="#262626">0.50</text>
<text x="205.40" y="174.41" fill="#262626">0.13</text>
<text x="224.71" y="174.40" fill="#262626">0.00</text>
<text x="244.02" y="174.38" fill="#262626">-0.05</text>
<text x="263.33" y="174.37" fill="#262626">-0.00</text>
<text x="282.63" y="174.35" fill="#fff">0.88</text>
<text x="301.94" y="174.34" fill="#fff">1.00</text>
<text x="321.25" y="174.32" fill="#262626">-0.00</text>
<text x="340.56" y="174.30" fill="#262626">0.07</text>
<text x="359.86" y="174.29" fill="#262626">0.01</text>
<text x="379.17" y="174.27" fill="#262626">0.00</text>
<text x="398.48" y="174.26" fill="#262626">0.02</text>
<text x="417.79" y="174.24" fill="#262626">0.01</text>
<text x="437.09" y="174.23" fill="#262626">0.00</text>
<text x="456.40" y="174.21" fill="#262626">0.06</text>
<text x="475.71" y="174.19" fill="#262626">0.39</text>
<text x="108.88" y="189.45" fill="#262626">0.00</text>
<text x="128.19" y="189.44" fill="#262626">-0.00</text>
<text x="147.50" y="189.42" fill="#262626">-0.25</text>
<text x="166.80" y="189.40" fill="#262626">-0.02</text>
<text x="186.11" y="189.39" fill="#262626">-0.00</text>
<text x="205.42" y="189.37" fill="#262626">-0.00</text>
<text x="224.73" y="189.36" fill="#262626">-0.00</text>
<text x="244.03" y="189.34" fill="#262626">-0.38</text>
<text x="263.34" y="189.33" fill="#262626">0.55</text>
<text x="282.65" y="189.31" fill="#262626">-0.00</text>
<text x="301.96" y="189.29" fill="#262626">-0.00</text>
<text x="321.26" y="189.28" fill="#fff">1.00</text>
<text x="340.57" y="189.26" fill="#262626">-0.01</text>
<text x="359.88" y="189.25" fill="#262626">-0.00</text>
<text x="379.19" y="189.23" fill="#262626">-0.00</text>
<text x="398.49" y="189.21" fill="#262626">-0.00</text>
<text x="417.80" y="189.20" fill="#262626">-0.00</text>
<text x="437.11" y="189.18" fill="#262626">-0.00</text>
<text x="456.42" y="189.17" fill="#262626">-0.00</text>
<text x="475.72" y="189.15" fill="#262626">-0.00</text>
<text x="108.89" y="204.41" fill="#262626">0.01</text>
<text x="128.20" y="204.39" fill="#262626">0.00</text>
<text x="147.51" y="204.38" fill="#262626">-0.17</text>
<text x="166.82" y="204.36" fill="#262626">0.17</text>
<text x="186.12" y="204.35" fill="#262626">0.03</text>
<text x="205.43" y="204.33" fill="#262626">0.25</text>
<text x="224.74" y="204.31" fill="#262626">0.00</text>
<text x="244.05" y="204.30" fill="#fff">-0.59</text>
<text x="263.35" y="204.28" fill="#262626">-0.02</text>
<text x="282.66" y="204.27" fill="#262626">0.18</text>
<text x="301.97" y="204.25" fill="#262626">0.07</text>
<text x="321.28" y="204.24" fill="#262626">-0.01</text>
<text x="340.58" y="204.22" fill="#fff">1.00</text>
<text x="359.89" y="204.20" fill="#262626">-0.00</text>
<text x="379.20" y="204.19" fill="#262626">-0.01</text>
<text x="398.51" y="204.17" fill="#262626">-0.00</text>
<text x="417.81" y="204.16" fill="#262626">-0.00</text>
<text x="437.12" y="204.14" fill="#262626">-0.00</text>
<text x="456.43" y="204.13" fill="#262626">-0.00</text>
<text x="475.74" y="204.11" fill="#262626">0.02</text>
<text x="108.91" y="219.37" fill="#262626">0.01</text>
<text x="128.22" y="219.35" fill="#262626">0.00</text>
<text x="147.52" y="219.34" fill="#262626">0.01</text>
<text x="166.83" y="219.32" fill="#262626">-0.01</text>
<text x="186.14" y="219.30" fill="#262626">0.01</text>
<text x="205.45" y="219.29" fill="#262626">0.02</text>
<text x="224.75" y="219.27" fill="#262626">-0.00</text>
<text x="244.06" y="219.26" fill="#262626">-0.19</text>
<text x="263.37" y="219.24" fill="#262626">-0.01</text>
<text x="282.68" y="219.23" fill="#262626">0.03</text>
<text x="301.98" y="219.21" fill="#262626">0.01</text>
<text x="321.29" y="219.19" fill="#262626">-0.00</text>
<text x="340.60" y="219.18" fill="#262626">-0.00</text>
<text x="359.91" y="219.16" fill="#fff">1.00</text>
<text x="379.21" y="219.15" fill="#262626">-0.00</text>
<text x="398.52" y="219.13" fill="#262626">-0.00</text>
<text x="417.83" y="219.11" fill="#262626">-0.00</text>
<text x="437.14" y="219.10" fill="#262626">-0.00</text>
<text x="456.44" y="219.08" fill="#262626">-0.00</text>
<text x="475.75" y="219.07" fill="#262626">-0.00</text>
<text x="108.92" y="234.32" fill="#262626">-0.00</text>
<text x="128.23" y="234.31" fill="#262626">-0.00</text>
<text x="147.54" y="234.29" fill="#262626">0.02</text>
<text x="166.85" y="234.28" fill="#262626">-0.02</text>
<text x="186.15" y="234.26" fill="#262626">-0.00</text>
<text x="205.46" y="234.25" fill="#262626">-0.00</text>
<text x="224.77" y="234.23" fill="#262626">-0.00</text>
<text x="244.08" y="234.21" fill="#262626">-0.29</text>
<text x="263.38" y="234.20" fill="#262626">-0.01</text>
<text x="282.69" y="234.18" fill="#262626">0.00</text>
<text x="302.00" y="234.17" fill="#262626">0.00</text>
<text x="321.31" y="234.15" fill="#262626">-0.00</text>
<text x="340.61" y="234.14" fill="#262626">-0.01</text>
<text x="359.92" y="234.12" fill="#262626">-0.00</text>
<text x="379.23" y="234.10" fill="#fff">1.00</text>
<text x="398.53" y="234.09" fill="#262626">-0.00</text>
<text x="417.84" y="234.07" fill="#262626">-0.00</text>
<text x="437.15" y="234.06" fill="#262626">-0.00</text>
<text x="456.46" y="234.04" fill="#262626">-0.00</text>
<text x="475.76" y="234.03" fill="#262626">-0.00</text>
<text x="108.94" y="249.28" fill="#262626">0.01</text>
<text x="128.24" y="249.27" fill="#262626">0.00</text>
<text x="147.55" y="249.25" fill="#262626">0.01</text>
<text x="166.86" y="249.24" fill="#262626">-0.01</text>
<text x="186.17" y="249.22" fill="#262626">0.01</text>
<text x="205.47" y="249.20" fill="#262626">0.01</text>
<text x="224.78" y="249.19" fill="#262626">-0.00</text>
<text x="244.09" y="249.17" fill="#262626">-0.14</text>
<text x="263.40" y="249.16" fill="#262626">-0.00</text>
<text x="282.70" y="249.14" fill="#262626">0.02</text>
<text x="302.01" y="249.13" fill="#262626">0.02</text>
<text x="321.32" y="249.11" fill="#262626">-0.00</text>
<text x="340.63" y="249.09" fill="#262626">-0.00</text>
<text x="359.93" y="249.08" fill="#262626">-0.00</text>
<text x="379.24" y="249.06" fill="#262626">-0.00</text>
<text x="398.55" y="249.05" fill="#fff">1.00</text>
<text x="417.86" y="249.03" fill="#262626">-0.00</text>
<text x="437.16" y="249.02" fill="#262626">-0.00</text>
<text x="456.47" y="249.00" fill="#262626">-0.00</text>
<text x="475.78" y="248.98" fill="#262626">0.00</text>
<text x="108.95" y="264.24" fill="#262626">0.00</text>
<text x="128.26" y="264.22" fill="#262626">0.00</text>
<text x="147.57" y="264.21" fill="#262626">0.00</text>
<text x="166.87" y="264.19" fill="#262626">-0.00</text>
<text x="186.18" y="264.18" fill="#262626">0.00</text>
<text x="205.49" y="264.16" fill="#262626">0.07</text>
<text x="224.80" y="264.15" fill="#262626">0.00</text>
<text x="244.10" y="264.13" fill="#262626">-0.05</text>
<text x="263.41" y="264.11" fill="#262626">-0.00</text>
<text x="282.72" y="264.10" fill="#262626">0.04</text>
<text x="302.03" y="264.08" fill="#262626">0.01</text>
<text x="321.33" y="264.07" fill="#262626">-0.00</text>
<text x="340.64" y="264.05" fill="#262626">-0.00</text>
<text x="359.95" y="264.04" fill="#262626">-0.00</text>
<text x="379.26" y="264.02" fill="#262626">-0.00</text>
<text x="398.56" y="264.00" fill="#262626">-0.00</text>
<text x="417.87" y="263.99" fill="#fff">1.00</text>
<text x="437.18" y="263.97" fill="#262626">-0.00</text>
<text x="456.49" y="263.96" fill="#262626">-0.00</text>
<text x="475.79" y="263.94" fill="#262626">-0.00</text>
<text x="108.96" y="279.20" fill="#262626">-0.00</text>
<text x="128.27" y="279.18" fill="#262626">-0.00</text>
<text x="147.58" y="279.17" fill="#262626">0.00</text>
<text x="166.89" y="279.15" fill="#262626">-0.00</text>
<text x="186.19" y="279.14" fill="#262626">-0.00</text>
<text x="205.50" y="279.12" fill="#262626">-0.00</text>
<text x="224.81" y="279.10" fill="#262626">-0.00</text>
<text x="244.12" y="279.09" fill="#262626">-0.04</text>
<text x="263.42" y="279.07" fill="#262626">-0.00</text>
<text x="282.73" y="279.06" fill="#262626">-0.00</text>
<text x="302.04" y="279.04" fill="#262626">0.00</text>
<text x="321.35" y="279.03" fill="#262626">-0.00</text>
<text x="340.65" y="279.01" fill="#262626">-0.00</text>
<text x="359.96" y="278.99" fill="#262626">-0.00</text>
<text x="379.27" y="278.98" fill="#262626">-0.00</text>
<text x="398.58" y="278.96" fill="#262626">-0.00</text>
<text x="417.88" y="278.95" fill="#262626">-0.00</text>
<text x="437.19" y="278.93" fill="#fff">1.00</text>
<text x="456.50" y="278.92" fill="#262626">-0.00</text>
<text x="475.81" y="278.90" fill="#262626">-0.00</text>
<text x="108.98" y="294.16" fill="#262626">0.04</text>
<text x="128.29" y="294.14" fill="#262626">0.00</text>
<text x="147.59" y="294.13" fill="#262626">0.00</text>
<text x="166.90" y="294.11" fill="#262626">-0.00</text>
<text x="186.21" y="294.09" fill="#262626">0.03</text>
<text x="205.52" y="294.08" fill="#262626">0.02</text>
<text x="224.82" y="294.06" fill="#262626">0.00</text>
<text x="244.13" y="294.05" fill="#262626">-0.03</text>
<text x="263.44" y="294.03" fill="#262626">-0.00</text>
<text x="282.75" y="294.01" fill="#262626">0.05</text>
<text x="302.05" y="294.00" fill="#262626">0.06</text>
<text x="321.36" y="293.98" fill="#262626">-0.00</text>
<text x="340.67" y="293.97" fill="#262626">-0.00</text>
<text x="359.98" y="293.95" fill="#262626">-0.00</text>
<text x="379.28" y="293.94" fill="#262626">-0.00</text>
<text x="398.59" y="293.92" fill="#262626">-0.00</text>
<text x="417.90" y="293.90" fill="#262626">-0.00</text>
<text x="437.21" y="293.89" fill="#262626">-0.00</text>
<text x="456.51" y="293.87" fill="#fff">1.00</text>
<text x="475.82" y="293.86" fill="#262626">0.05</text>
<text x="108.99" y="309.11" fill="#262626">0.24</text>
<text x="128.30" y="309.10" fill="#262626">0.00</text>
<text x="147.61" y="309.08" fill="#262626">0.00</text>
<text x="166.91" y="309.07" fill="#262626">-0.00</text>
<text x="186.22" y="309.05" fill="#262626">0.21</text>
<text x="205.53" y="309.04" fill="#fff">0.78</text>
<text x="224.84" y="309.02" fill="#262626">0.00</text>
<text x="244.14" y="309.00" fill="#262626">-0.02</text>
<text x="263.45" y="308.99" fill="#262626">-0.00</text>
<text x="282.76" y="308.97" fill="#fff">0.68</text>
<text x="302.07" y="308.96" fill="#262626">0.39</text>
<text x="321.37" y="308.94" fill="#262626">-0.00</text>
<text x="340.68" y="308.93" fill="#262626">0.02</text>
<text x="359.99" y="308.91" fill="#262626">-0.00</text>
<text x="379.30" y="308.89" fill="#262626">-0.00</text>
<text x="398.60" y="308.88" fill="#262626">0.00</text>
<text x="417.91" y="308.86" fill="#262626">-0.00</text>
<text x="437.22" y="308.85" fill="#262626">-0.00</text>
<text x="456.53" y="308.83" fill="#262626">0.05</text>
<text x="475.83" y="308.82" fill="#fff">1.00</text>
</g>
<g transform="rotate(0.05)" fill="#000" stroke="#000" stroke-width="0.18">
<g font-size="8.05" text-anchor="end">
<text x="95.21" y="26.37" font-size="8.15">duration</text>
<text x="95.23" y="42.37" font-size="8.15">orig_ip_bytes</text>
<text x="95.24" y="58.38" font-size="8.15">proto_tcp</text>
<text x="95.25" y="74.38" font-size="8.15">proto_udp</text>
<text x="95.27" y="90.39" font-size="8.15">orig_pkts</text>
<text x="95.28" y="106.39" font-size="8.15">resp_bytes</text>
<text x="95.30" y="122.40" font-size="8.15">orig_bytes</text>
<text x="95.31" y="138.40" font-size="8.15">conn_state_S0</text>
<text x="95.32" y="154.41" font-size="8.15">conn_state_OTH</text>
<text x="95.34" y="170.41" font-size="8.15">resp_ip_bytes</text>
<text x="95.35" y="186.42" font-size="8.15">resp_pkts</text>
<text x="95.37" y="202.42" font-size="8.15">proto_icmp</text>
<text x="95.38" y="218.43" font-size="8.15">conn_state_SF</text>
<text x="95.39" y="234.43" font-size="8.15">conn_state_S3</text>
<text x="95.41" y="250.44" font-size="8.15">conn_state_REJ</text>
<text x="95.42" y="266.44" font-size="8.15">conn_state_RSTR</text>
<text x="95.44" y="282.45" font-size="8.15">conn_state_RSTO</text>
<text x="95.45" y="298.45" font-size="8.15">conn_state_RSTOS0</text>
<text x="95.46" y="314.46" font-size="8.15">conn_state_S2</text>
<text x="95.48" y="330.46" font-size="8.15">missed_bytes</text>
<text transform="translate(111.20,341.56) rotate(-90)">duration</text>
<text transform="translate(130.51,341.55) rotate(-90)">orig_ip_bytes</text>
<text transform="translate(149.82,341.53) rotate(-90)">proto_tcp</text>
<text transform="translate(169.12,341.51) rotate(-90)">proto_udp</text>
<text transform="translate(188.43,341.50) rotate(-90)">orig_pkts</text>
<text transform="translate(207.74,341.48) rotate(-90)">resp_bytes</text>
<text transform="translate(227.05,341.46) rotate(-90)">orig_bytes</text>
<text transform="translate(246.35,341.45) rotate(-90)">conn_state_S0</text>
<text transform="translate(265.66,341.43) rotate(-90)">conn_state_OTH</text>
<text transform="translate(284.97,341.41) rotate(-90)">resp_ip_bytes</text>
<text transform="translate(304.28,341.39) rotate(-90)">resp_pkts</text>
<text transform="translate(323.58,341.38) rotate(-90)">proto_icmp</text>
<text transform="translate(342.89,341.36) rotate(-90)">conn_state_SF</text>
<text transform="translate(362.20,341.34) rotate(-90)">conn_state_S3</text>
<text transform="translate(381.51,341.33) rotate(-90)">conn_state_REJ</text>
<text transform="translate(400.81,341.31) rotate(-90)">conn_state_RSTR</text>
<text transform="translate(420.12,341.29) rotate(-90)">conn_state_RSTO</text>
<text transform="translate(439.43,341.28) rotate(-90)">conn_state_RSTOS0</text>
<text transform="translate(458.74,341.26) rotate(-90)">conn_state_S2</text>
<text transform="translate(478.04,341.24) rotate(-90)">missed_bytes</text>
</g>
<text x="292.14" y="12.75" font-size="11.55" text-anchor="middle">Correlation Matrix of IoT23 Dataset</text>
<text x="292.50" y="429.74" font-size="9.12" text-anchor="middle">Features</text>
<text transform="translate(11.56,177.89) rotate(-90)" font-size="9.12" text-anchor="middle">Features</text>
<g font-size="5.55" stroke="none">
<text x="530.13" y="18.01">1.00</text>
<text x="530.16" y="58.84">0.75</text>
<text x="530.20" y="99.67">0.50</text>
<text x="530.23" y="140.50">0.25</text>
<text x="530.27" y="181.33">0.00</text>
<text x="530.30" y="222.16">−0.25</text>
<text x="530.34" y="262.99">−0.50</text>
<text x="530.38" y="303.82">−0.75</text>
</g>
</g>
<rect x="510.0" y="16.0" width="15.60" height="320.10" fill="url(#cb)"/>
<g stroke="#000" stroke-width="0.45">
<line x1="525.6" y1="16.00" x2="527.53" y2="16.00"/>
<line x1="525.6" y1="56.83" x2="527.53" y2="56.83"/>
<line x1="525.6" y1="97.66" x2="527.53" y2="97.66"/>
<line x1="525.6" y1="138.49" x2="527.53" y2="138.49"/>
<line x1="525.6" y1="179.32" x2="527.53" y2="179.32"/>
<line x1="525.6" y1="220.15" x2="527.53" y2="220.15"/>
<line x1="525.6" y1="260.97" x2="527.53" y2="260.97"/>
<line x1="525.6" y1="301.80" x2="527.53" y2="301.80"/>
</g>
</svg>
</body></html>
